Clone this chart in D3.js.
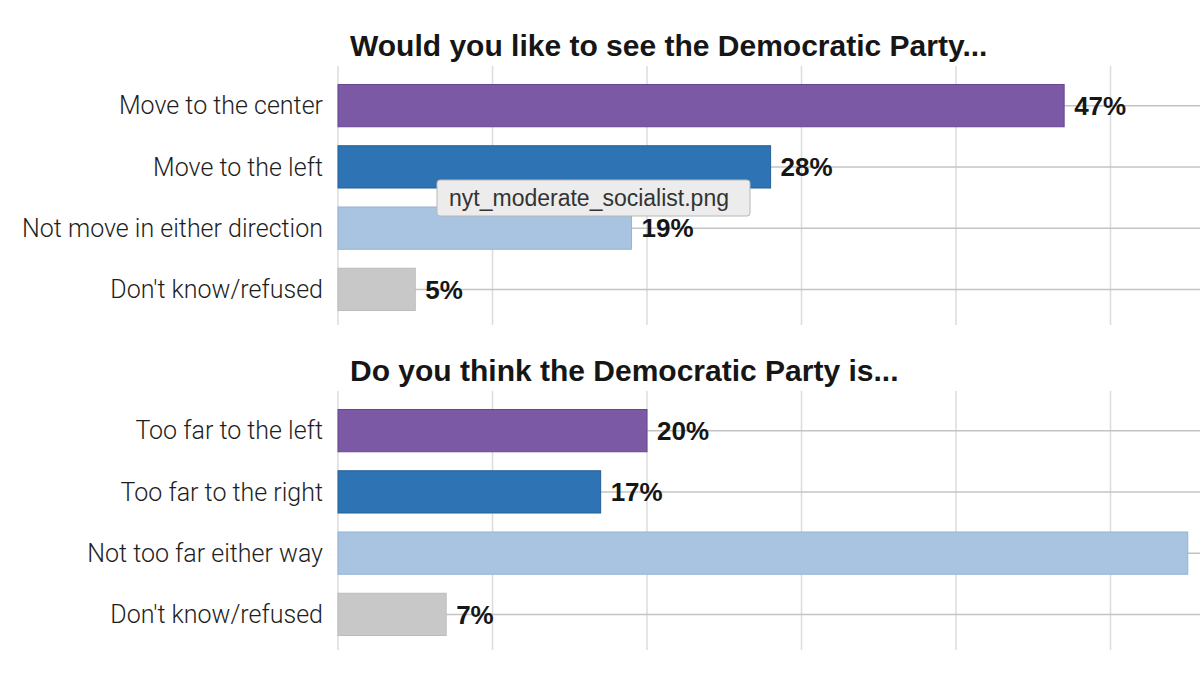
<!DOCTYPE html>
<html>
<head lang="en">
    <meta charset="utf-8">
    <title>Democratic Party direction</title>
    <style type="text/css">
        body {
            margin: 0;
            background-color: #fff;
            overflow: hidden;
        }

        .title {
            font-family: "Liberation Sans", Arial, sans-serif;
            font-weight: bold;
            font-size: 30px;
            fill: #161616;
        }

        .cat {
            font-family: Roboto, "Liberation Sans", sans-serif;
            font-weight: 300;
            font-size: 25px;
            fill: #1e1e1e;
        }

        .val {
            font-family: "Liberation Sans", Arial, sans-serif;
            font-weight: bold;
            font-size: 26px;
            fill: #161616;
        }
    </style>
</head>
<body>
<script src="https://cdn.jsdelivr.net/npm/d3@7"></script>
<script type="text/javascript">
    //两组问题的数据
    var titles = ["Would you like to see the Democratic Party...", "Do you think the Democratic Party is..."];
    var cats1 = ["Move to the center", "Move to the left", "Not move in either direction", "Don't know/refused"];
    var vals1 = [47, 28, 19, 5];
    var cats2 = ["Too far to the left", "Too far to the right", "Not too far either way", "Don't know/refused"];
    var vals2 = [20, 17, 55, 7];
    var ticks = [0, 10, 20, 30, 40, 50];
    var colors = ["#7b59a4", "#2e74b5", "#a8c4e0", "#c8c8c8"];
    var borders = ["#67488f", "#24609a", "#95b3d3", "#bcbcbc"];

    var W = 1200;

    var svg = d3.select("body")
        .append("svg")
        .attr("width", W)
        .attr("height", 675);

    var x = d3.scaleLinear().domain([0, 10]).range([338, 492.5]);

    //画一个面板
    function panel(title, cats, vals, top) {
        var y = d3.scaleBand()
            .domain(cats)
            .range([top + 75, top + 320])
            .paddingInner(0.31)
            .paddingOuter(0.155);

        var g = svg.append("g");

        //竖直网格线
        g.selectAll("line.v")
            .data(ticks)
            .enter()
            .append("line")
            .attr("x1", function (d) { return x(d); })
            .attr("x2", function (d) { return x(d); })
            .attr("y1", top + 66)
            .attr("y2", top + 325)
            .attr("stroke", "#dcdcdc")
            .attr("stroke-width", 1.5);

        //水平网格线
        g.selectAll("line.h")
            .data(cats)
            .enter()
            .append("line")
            .attr("x1", x(0))
            .attr("x2", W)
            .attr("y1", function (d) { return y(d) + y.bandwidth() / 2; })
            .attr("y2", function (d) { return y(d) + y.bandwidth() / 2; })
            .attr("stroke", "#c4c4c4")
            .attr("stroke-width", 1.5);

        g.selectAll("rect")
            .data(vals)
            .enter()
            .append("rect")
            .attr("x", x(0))
            .attr("y", function (d, i) { return y(cats[i]); })
            .attr("width", function (d) { return x(d) - x(0); })
            .attr("height", y.bandwidth())
            .attr("fill", function (d, i) { return colors[i]; })
            .attr("stroke", function (d, i) { return borders[i]; })
            .attr("stroke-width", 1);

        g.selectAll("text.cat")
            .data(cats)
            .enter()
            .append("text")
            .attr("class", "cat")
            .attr("x", 323)
            .attr("y", function (d) { return y(d) + y.bandwidth() / 2; })
            .attr("dy", "0.35em")
            .attr("text-anchor", "end")
            .text(function (d) { return d; });

        //超出画面的数值标签不显示（原图里被截掉了）
        g.selectAll("text.val")
            .data(vals.map(function (d, i) { return {v: d, c: cats[i]}; })
                .filter(function (d) { return x(d.v) + 60 < W; }))
            .enter()
            .append("text")
            .attr("class", "val")
            .attr("x", function (d) { return x(d.v) + 10; })
            .attr("y", function (d) { return y(d.c) + y.bandwidth() / 2; })
            .attr("dy", "0.36em")
            .text(function (d) { return d.v + "%"; });

        g.append("text")
            .attr("class", "title")
            .attr("x", 350)
            .attr("y", top + 56)
            .text(title);
    }

    panel(titles[0], cats1, vals1, 0);
    panel(titles[1], cats2, vals2, 325);

    //截图里的文件名提示框
    var tip = svg.append("g");
    tip.append("rect")
        .attr("x", 437)
        .attr("y", 180)
        .attr("width", 313)
        .attr("height", 36)
        .attr("rx", 3)
        .attr("fill", "#ececec")
        .attr("stroke", "#b8b8b8");
    tip.append("text")
        .attr("x", 449)
        .attr("y", 206)
        .style("font-family", "'Liberation Sans', Arial, sans-serif")
        .style("font-size", "23px")
        .style("fill", "#333")
        .text("nyt_moderate_socialist.png");
</script>
</body>
</html>
